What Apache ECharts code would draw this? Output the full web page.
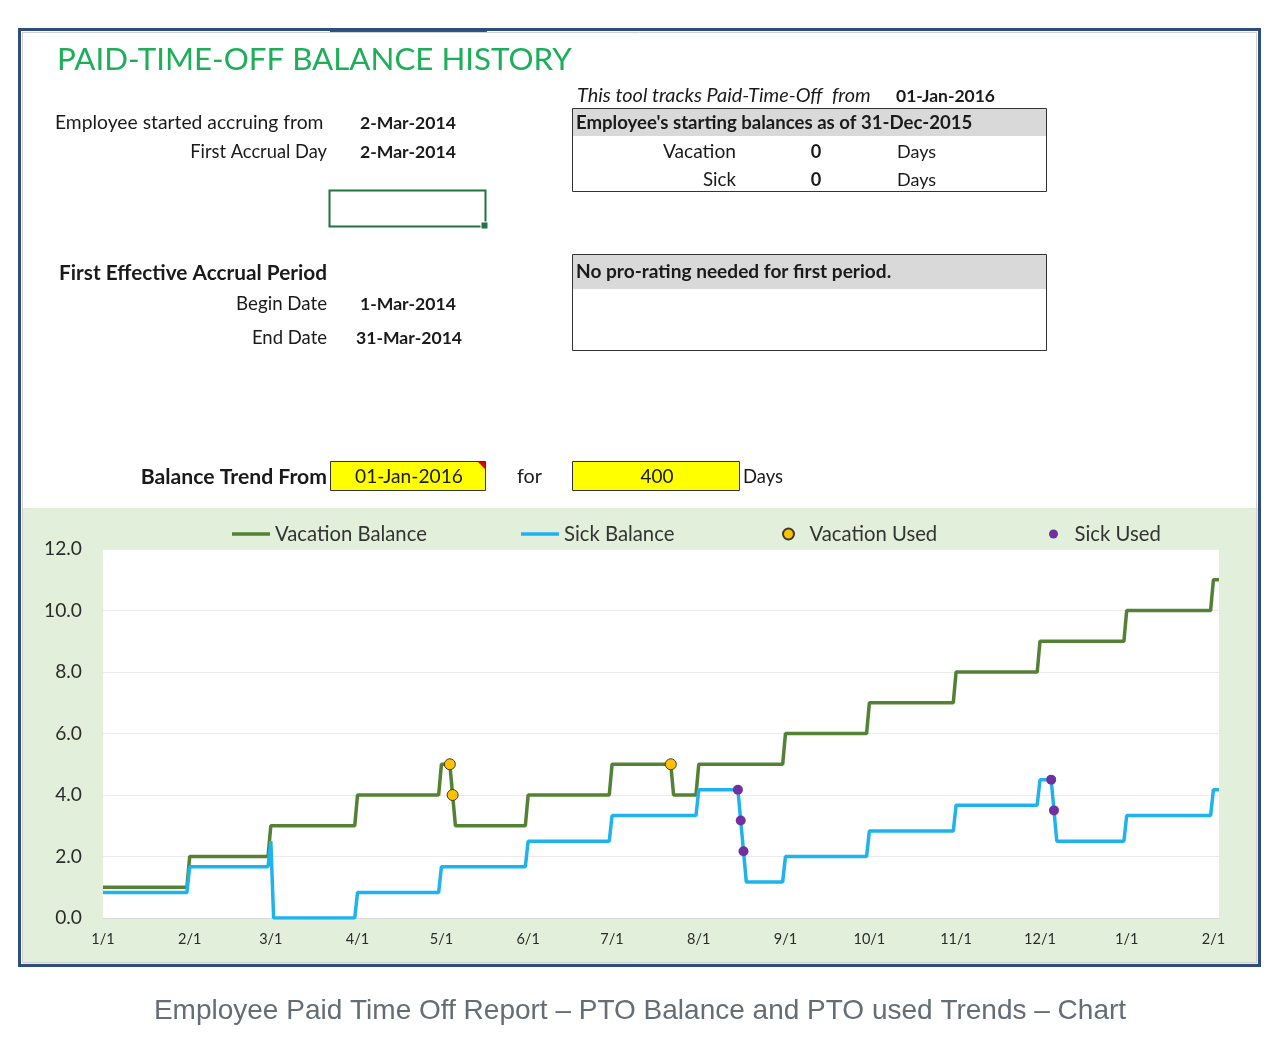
<!DOCTYPE html>
<html lang="en">
<head>
    <meta charset="UTF-8">
    <title>PTO Balance History</title>
    <script src="https://cdn.jsdelivr.net/npm/echarts@6/dist/echarts.min.js"></script>
    <style>html,body{margin:0;padding:0;background:#fff;}</style>
</head>
<body>
<div id="main" style="width:1286px;height:1060px;"></div>
<script>
// balances, [date, days]
var vacationBalance = [
    ['2016-01-01', 1], ['2016-01-31', 1], ['2016-02-01', 2], ['2016-02-29', 2],
    ['2016-03-01', 3], ['2016-03-31', 3], ['2016-04-01', 4], ['2016-04-30', 4],
    ['2016-05-01', 5], ['2016-05-04', 5], ['2016-05-05', 4], ['2016-05-06', 3],
    ['2016-05-31', 3], ['2016-06-01', 4], ['2016-06-30', 4], ['2016-07-01', 5],
    ['2016-07-22', 5], ['2016-07-23', 4], ['2016-07-31', 4], ['2016-08-01', 5],
    ['2016-08-31', 5], ['2016-09-01', 6], ['2016-09-30', 6], ['2016-10-01', 7],
    ['2016-10-31', 7], ['2016-11-01', 8], ['2016-11-30', 8], ['2016-12-01', 9],
    ['2016-12-31', 9], ['2017-01-01', 10], ['2017-01-31', 10], ['2017-02-01', 11],
    ['2017-02-03', 11]
];
var sickBalance = [
    ['2016-01-01', 0.83], ['2016-01-31', 0.83], ['2016-02-01', 1.67], ['2016-02-29', 1.67],
    ['2016-03-01', 2.5], ['2016-03-02', 0], ['2016-03-31', 0], ['2016-04-01', 0.83],
    ['2016-04-30', 0.83], ['2016-05-01', 1.67], ['2016-05-31', 1.67], ['2016-06-01', 2.5],
    ['2016-06-30', 2.5], ['2016-07-01', 3.33], ['2016-07-31', 3.33], ['2016-08-01', 4.17],
    ['2016-08-15', 4.17], ['2016-08-16', 3.17], ['2016-08-17', 2.17], ['2016-08-18', 1.17],
    ['2016-08-31', 1.17], ['2016-09-01', 2.0], ['2016-09-30', 2.0], ['2016-10-01', 2.83],
    ['2016-10-31', 2.83], ['2016-11-01', 3.67], ['2016-11-30', 3.67], ['2016-12-01', 4.5],
    ['2016-12-05', 4.5], ['2016-12-06', 3.5], ['2016-12-07', 2.5], ['2016-12-31', 2.5],
    ['2017-01-01', 3.33], ['2017-01-31', 3.33], ['2017-02-01', 4.17], ['2017-02-03', 4.17]
];
var vacationUsed = [['2016-05-04', 5], ['2016-05-05', 4], ['2016-07-22', 5]];
var sickUsed = [['2016-08-15', 4.17], ['2016-08-16', 3.17], ['2016-08-17', 2.17],
    ['2016-12-05', 4.5], ['2016-12-06', 3.5]];

var monthTicks = ['2016-01-01', '2016-02-01', '2016-03-01', '2016-04-01', '2016-05-01',
    '2016-06-01', '2016-07-01', '2016-08-01', '2016-09-01', '2016-10-01', '2016-11-01',
    '2016-12-01', '2017-01-01', '2017-02-01'];
// 400 days starting 01-Jan-2016
var rangeStart = '2016-01-01', rangeEnd = '2017-02-03';
var seriesNames = ['Vacation Balance', 'Sick Balance', 'Vacation Used', 'Sick Used'];
var caption = 'Employee Paid Time Off Report \u2013 PTO Balance and PTO used Trends \u2013 Chart';

function ts(s) {
    var p = s.split('-');
    return new Date(+p[0], +p[1] - 1, +p[2]).getTime();
}
function pts(arr) {
    return arr.map(function (d) { return [ts(d[0]), d[1]]; });
}

// size text so it covers the same width as in the sheet (no Calibri here)
var mctx = document.createElement('canvas').getContext('2d');
function fitSize(text, width, weight, family, style) {
    mctx.font = (style || 'normal') + ' ' + (weight || 'normal') + ' 100px ' + (family || 'Lato');
    return +(100 * width / mctx.measureText(text).width).toFixed(1);
}
var legendSize = fitSize('Vacation Balance', 152);
var ySize = fitSize('12.0', 38);
var xSize = 14.5;
var axisColor = '#2B2B2B';

function label(text, x, y, w, opt) {
    opt = opt || {};
    var weight = opt.bold ? 'bold' : 'normal';
    var style = opt.italic ? 'italic' : 'normal';
    var family = opt.family || 'Lato';
    return {
        type: 'text', x: x, y: y, z: 10,
        style: {
            text: text,
            fill: opt.color || '#1a1a1a',
            fontFamily: family,
            fontSize: fitSize(text, w, weight, family === 'Lato' ? 'Lato' : '"' + family + '"', style),
            fontWeight: weight,
            fontStyle: style,
            align: opt.align || 'left',
            verticalAlign: 'middle'
        }
    };
}
function box(x, y, w, h, fill, stroke, lw) {
    return {
        type: 'rect', z: 5,
        shape: {x: x, y: y, width: w, height: h},
        style: {fill: fill || 'none', stroke: stroke || null, lineWidth: lw || 1}
    };
}
var B = {bold: true}, R = {align: 'right'}, C = {align: 'center'};

var sheet = [
    // chart area background
    {type: 'rect', z: -10, shape: {x: 23, y: 508, width: 1236, height: 456}, style: {fill: '#E2EFDA'}},
    // frame
    {type: 'rect', z: 20, shape: {x: 19.5, y: 29.5, width: 1240, height: 936}, style: {fill: 'none', stroke: '#2C4D7D', lineWidth: 3}},
    {type: 'rect', z: 19, shape: {x: 22.5, y: 32.5, width: 1234, height: 930}, style: {fill: 'none', stroke: '#D0D0D0', lineWidth: 1}},
    box(330, 30, 157, 3, '#1E6B47'),

    label('PAID-TIME-OFF BALANCE HISTORY', 57, 60, 515, {color: '#1EAE5A'}),
    label('Employee started accruing from', 55, 123, 268),
    label('2-Mar-2014', 360, 123, 96, B),
    label('First Accrual Day', 327, 152, 137, R),
    label('2-Mar-2014', 360, 152, 96, B),
    box(329.5, 190.5, 156, 36, 'none', '#217346', 2),
    box(481, 222, 7, 7, '#217346', '#fff', 1),

    label('This tool tracks Paid-Time-Off  from', 577, 96, 294, {italic: true}),
    label('01-Jan-2016', 896, 96, 99, B),
    box(573, 109, 473, 27, '#D9D9D9'),
    box(572.5, 108.5, 474, 83, 'none', '#333', 1),
    label('Employee\'s starting balances as of 31-Dec-2015', 576, 123, 396, B),
    label('Vacation', 736, 152, 73, R),
    label('0', 816, 152, 10.5, {bold: true, align: 'center'}),
    label('Days', 897, 152, 39),
    label('Sick', 736, 180, 33, R),
    label('0', 816, 180, 10.5, {bold: true, align: 'center'}),
    label('Days', 897, 180, 39),

    label('First Effective Accrual Period', 59, 273, 268, B),
    label('Begin Date', 327, 304, 91, R),
    label('1-Mar-2014', 360, 304, 96, B),
    label('End Date', 327, 338, 75, R),
    label('31-Mar-2014', 356, 338, 106, B),
    box(573, 255, 473, 34, '#D9D9D9'),
    box(572.5, 254.5, 474, 96, 'none', '#333', 1),
    label('No pro-rating needed for first period.', 576, 272, 316, B),

    label('Balance Trend From', 327, 477, 186, {bold: true, align: 'right'}),
    box(330.5, 461.5, 155, 29, '#FFFF00', '#333', 1),
    {type: 'polygon', z: 6, shape: {points: [[478, 462], [485, 462], [485, 469]]}, style: {fill: '#E00000'}},
    label('01-Jan-2016', 409, 477, 108, C),
    label('for', 517, 477, 25),
    box(572.5, 461.5, 167, 29, '#FFFF00', '#333', 1),
    label('400', 657, 477, 33, C),
    label('Days', 743, 477, 40),

    label(caption, 640, 1011, 971, {family: 'Liberation Sans', color: '#646C76', align: 'center'})
];

function legendAt(name, left, w, h, icon) {
    return {
        data: [name], left: left, top: 524, padding: 0,
        itemWidth: w, itemHeight: h, icon: icon,
        textStyle: {fontFamily: 'Lato', fontSize: legendSize, color: '#333'}
    };
}

var chart = echarts.init(document.getElementById('main'));
chart.setOption({
    animation: false,
    backgroundColor: '#fff',
    textStyle: {fontFamily: 'Lato'},
    graphic: {elements: sheet},
    legend: [
        legendAt(seriesNames[0], 232, 38, 3.5, 'rect'),
        legendAt(seriesNames[1], 521, 38, 3.5, 'rect'),
        legendAt(seriesNames[2], 782, 32, 11, 'circle'),
        legendAt(seriesNames[3], 1049, 32, 9, 'circle')
    ],
    grid: {
        left: 103, top: 549, width: 1116, height: 369,
        show: true, backgroundColor: '#fff', borderWidth: 0,
        outerBoundsMode: 'none'
    },
    // x is a plain value axis over timestamps, labels only at month starts
    xAxis: {
        type: 'value',
        min: ts(rangeStart), max: ts(rangeEnd),
        axisLine: {show: true, lineStyle: {color: '#D9D9D9', width: 1}},
        axisTick: {show: false},
        splitLine: {show: false},
        axisLabel: {
            customValues: monthTicks.map(ts),
            formatter: function (v) {
                var d = new Date(v);
                return (d.getMonth() + 1) + '/' + d.getDate();
            },
            fontFamily: 'Lato', fontSize: xSize, color: axisColor, margin: 14,
            hideOverlap: false
        }
    },
    yAxis: {
        type: 'value', min: 0, max: 12, interval: 2,
        axisLine: {show: false},
        axisTick: {show: false},
        splitLine: {lineStyle: {color: '#EBEBEB', width: 1}},
        axisLabel: {
            formatter: function (v) { return v.toFixed(1); },
            fontFamily: 'Lato', fontSize: ySize, color: axisColor, margin: 21
        }
    },
    series: [
        {
            name: seriesNames[0], type: 'line', data: pts(vacationBalance),
            symbol: 'none', z: 2,
            lineStyle: {color: '#548235', width: 3.5},
            itemStyle: {color: '#548235'}
        },
        {
            name: seriesNames[1], type: 'line', data: pts(sickBalance),
            symbol: 'none', z: 3,
            lineStyle: {color: '#1FB3EE', width: 3.5},
            itemStyle: {color: '#1FB3EE'}
        },
        {
            name: seriesNames[2], type: 'scatter', data: pts(vacationUsed),
            symbolSize: 11, z: 5,
            itemStyle: {color: '#FFC000', borderColor: '#3A3A3A', borderWidth: 1, opacity: 1}
        },
        {
            name: seriesNames[3], type: 'scatter', data: pts(sickUsed),
            symbolSize: 10, z: 5,
            itemStyle: {color: '#7030A0', opacity: 1}
        }
    ]
});
</script>
</body>
</html>
